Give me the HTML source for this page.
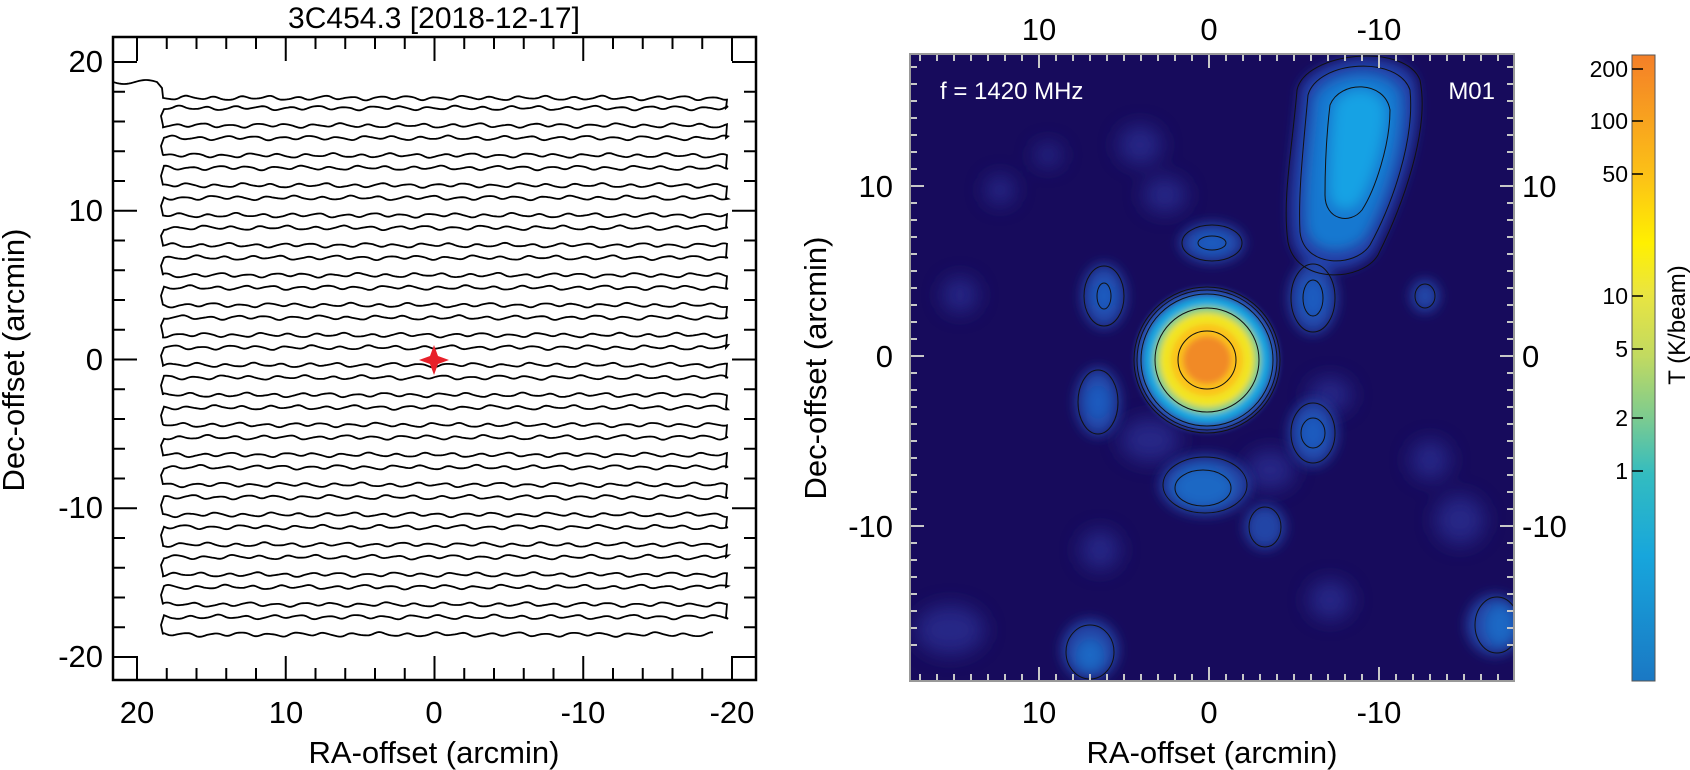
<!DOCTYPE html>
<html><head><meta charset="utf-8">
<style>
html,body{margin:0;padding:0;background:#fff;}
svg{display:block;font-family:"Liberation Sans",Arial,sans-serif;}
</style></head>
<body>
<svg id="s" width="1690" height="770" viewBox="0 0 1690 770" xmlns="http://www.w3.org/2000/svg">
<defs>
<filter id="b6" x="-50%" y="-50%" width="200%" height="200%"><feGaussianBlur stdDeviation="6"/></filter>
<filter id="b3" x="-50%" y="-50%" width="200%" height="200%"><feGaussianBlur stdDeviation="3"/></filter>
<filter id="b10" x="-50%" y="-50%" width="200%" height="200%"><feGaussianBlur stdDeviation="10"/></filter>
<linearGradient id="cb" x1="0" y1="1" x2="0" y2="0">
<stop offset="0" stop-color="#1a78c4"/>
<stop offset="0.2" stop-color="#17a6dc"/>
<stop offset="0.33" stop-color="#33bcc0"/>
<stop offset="0.42" stop-color="#7ccb90"/>
<stop offset="0.52" stop-color="#c2da60"/>
<stop offset="0.62" stop-color="#eae540"/>
<stop offset="0.7" stop-color="#fff000"/>
<stop offset="0.8" stop-color="#fcc416"/>
<stop offset="1" stop-color="#f47f28"/>
</linearGradient>
<clipPath id="mc"><rect x="910" y="54" width="604" height="627"/></clipPath>
</defs>

<!-- LEFT PLOT -->
<text x="434" y="28" font-size="30" text-anchor="middle">3C454.3 [2018-12-17]</text>
<rect x="113" y="37" width="643" height="643" fill="none" stroke="#000" stroke-width="2.5"/>
<g id="lt" stroke="#000" stroke-width="2"></g>
<path id="tr" fill="none" stroke="#000" stroke-width="1.8"/>
<path d="M434,345 L438,356 L449,360 L438,364 L434,375 L430,364 L419,360 L430,356 Z" fill="#e8202a"/>
<g font-size="31" text-anchor="end">
<text x="103" y="72">20</text><text x="103" y="221">10</text><text x="103" y="370">0</text>
<text x="103" y="518">-10</text><text x="103" y="667">-20</text>
</g>
<g font-size="31" text-anchor="middle">
<text x="137" y="723">20</text><text x="286" y="723">10</text><text x="434" y="723">0</text>
<text x="583" y="723">-10</text><text x="732" y="723">-20</text>
</g>
<text x="434" y="763" font-size="31" text-anchor="middle">RA-offset (arcmin)</text>
<text transform="translate(24,360) rotate(-90)" font-size="31" text-anchor="middle">Dec-offset (arcmin)</text>

<!-- RIGHT MAP -->
<g clip-path="url(#mc)">
<rect x="910" y="54" width="604" height="627" fill="#170b5c"/>
<g filter="url(#b10)" fill="#2a2f92" opacity="0.8">
<ellipse cx="1140" cy="145" rx="22" ry="20"/>
<ellipse cx="1048" cy="155" rx="14" ry="12"/>
<ellipse cx="1165" cy="195" rx="22" ry="18"/>
<ellipse cx="1000" cy="190" rx="15" ry="15"/>
<ellipse cx="960" cy="295" rx="18" ry="18"/>
<ellipse cx="1330" cy="395" rx="22" ry="18"/>
<ellipse cx="1430" cy="460" rx="20" ry="20"/>
<ellipse cx="1460" cy="520" rx="25" ry="25"/>
<ellipse cx="950" cy="630" rx="35" ry="25"/>
<ellipse cx="1150" cy="440" rx="30" ry="22"/>
<ellipse cx="1270" cy="470" rx="25" ry="20"/>
<ellipse cx="1100" cy="550" rx="20" ry="20"/>
<ellipse cx="1330" cy="600" rx="22" ry="20"/>
</g>
<g filter="url(#b6)">
<path d="M1300,90 C1310,55 1400,45 1415,80 C1425,130 1400,200 1375,250 C1360,275 1300,280 1292,240 C1285,200 1295,150 1300,90 Z" fill="#2040a8"/>
<path d="M1315,100 C1325,70 1390,65 1400,95 C1405,140 1385,200 1365,235 C1350,255 1310,255 1307,225 C1305,190 1310,150 1315,100 Z" fill="#1478d0"/>
<path d="M1335,105 C1345,85 1380,85 1385,110 C1385,140 1372,180 1360,200 C1350,215 1330,210 1330,190 C1330,160 1332,130 1335,105 Z" fill="#12a2e4"/>
<ellipse cx="1212" cy="243" rx="32" ry="20" fill="#2344a6"/>
<ellipse cx="1212" cy="243" rx="18" ry="10" fill="#1c5cc0"/>
<ellipse cx="1104" cy="296" rx="22" ry="32" fill="#2344a6"/>
<ellipse cx="1104" cy="296" rx="10" ry="16" fill="#1c5cc0"/>
<ellipse cx="1098" cy="402" rx="22" ry="34" fill="#2344a6"/>
<ellipse cx="1098" cy="402" rx="10" ry="18" fill="#1c5cc0"/>
<ellipse cx="1313" cy="298" rx="24" ry="36" fill="#2344a6"/>
<ellipse cx="1313" cy="298" rx="12" ry="20" fill="#1c5cc0"/>
<ellipse cx="1313" cy="433" rx="24" ry="33" fill="#2344a6"/>
<ellipse cx="1313" cy="433" rx="12" ry="18" fill="#1c5cc0"/>
<ellipse cx="1205" cy="485" rx="45" ry="30" fill="#2344a6"/>
<ellipse cx="1203" cy="487" rx="30" ry="20" fill="#1a68c4"/>
<ellipse cx="1265" cy="527" rx="20" ry="22" fill="#2344a6"/>
<ellipse cx="1090" cy="650" rx="28" ry="30" fill="#2344a6"/>
<ellipse cx="1090" cy="655" rx="14" ry="16" fill="#1a68c4"/>
<ellipse cx="1495" cy="625" rx="28" ry="30" fill="#2344a6"/>
<ellipse cx="1500" cy="625" rx="15" ry="20" fill="#1a68c4"/>
<ellipse cx="1425" cy="296" rx="14" ry="16" fill="#2344a6"/>
</g>
<g filter="url(#b3)">
<circle cx="1207" cy="360" r="72" fill="#2a4fb0"/>
<circle cx="1207" cy="360" r="63" fill="#15a6e0"/>
<circle cx="1207" cy="360" r="54" fill="#8fcf80"/>
<circle cx="1207" cy="360" r="47" fill="#f2e424"/>
<circle cx="1207" cy="360" r="36" fill="#fbc21a"/>
<circle cx="1207" cy="360" r="24" fill="#f18a28"/>
</g>
<g fill="none" stroke="#111" stroke-width="1">
<circle cx="1207" cy="360" r="73"/>
<circle cx="1207" cy="360" r="70"/>
<circle cx="1207" cy="360" r="66"/>
<circle cx="1207" cy="360" r="52"/>
<circle cx="1207" cy="360" r="29"/>
<path d="M1297,90 C1305,52 1405,42 1420,80 C1430,130 1403,205 1378,255 C1362,282 1296,285 1288,242 C1282,200 1292,150 1297,90 Z"/>
<path d="M1308,95 C1318,60 1398,55 1410,90 C1415,140 1392,205 1370,245 C1355,268 1304,268 1300,232 C1298,195 1303,150 1308,95 Z"/>
<path d="M1330,105 C1340,80 1385,80 1390,110 C1390,145 1375,190 1362,210 C1350,225 1325,220 1325,195 C1325,160 1327,130 1330,105 Z"/>
<ellipse cx="1212" cy="243" rx="30" ry="18"/><ellipse cx="1212" cy="243" rx="14" ry="7"/>
<ellipse cx="1104" cy="296" rx="20" ry="30"/><ellipse cx="1104" cy="296" rx="7" ry="13"/>
<ellipse cx="1098" cy="402" rx="20" ry="32"/>
<ellipse cx="1313" cy="298" rx="22" ry="34"/><ellipse cx="1313" cy="298" rx="10" ry="18"/>
<ellipse cx="1313" cy="433" rx="22" ry="30"/><ellipse cx="1313" cy="433" rx="12" ry="15"/>
<ellipse cx="1205" cy="485" rx="42" ry="28"/><ellipse cx="1203" cy="488" rx="28" ry="18"/>
<ellipse cx="1265" cy="527" rx="16" ry="20"/>
<ellipse cx="1090" cy="652" rx="24" ry="27"/>
<ellipse cx="1497" cy="625" rx="22" ry="28"/>
<ellipse cx="1425" cy="296" rx="10" ry="12"/>
</g>
<text x="940" y="99" font-size="24" fill="#fff">f = 1420 MHz</text>
<text x="1495" y="99" font-size="24" fill="#fff" text-anchor="end">M01</text>
</g>
<g id="rt" stroke="#c8c8c8" stroke-width="2"></g>
<rect x="910" y="54" width="604" height="627" fill="none" stroke="#999" stroke-width="2"/>
<g font-size="31" text-anchor="middle">
<text x="1039" y="40">10</text><text x="1209" y="40">0</text><text x="1379" y="40">-10</text>
<text x="1039" y="723">10</text><text x="1209" y="723">0</text><text x="1379" y="723">-10</text>
</g>
<g font-size="31" text-anchor="end">
<text x="893" y="197">10</text><text x="893" y="367">0</text><text x="893" y="537">-10</text>
</g>
<g font-size="31">
<text x="1522" y="197">10</text><text x="1522" y="367">0</text><text x="1522" y="537">-10</text>
</g>
<text x="1212" y="763" font-size="31" text-anchor="middle">RA-offset (arcmin)</text>
<text transform="translate(826,368) rotate(-90)" font-size="31" text-anchor="middle">Dec-offset (arcmin)</text>

<!-- COLORBAR -->
<rect x="1632" y="55" width="23" height="626" fill="url(#cb)"/>
<rect x="1632" y="55" width="23" height="626" fill="none" stroke="#555" stroke-width="1"/>
<g stroke="#000" stroke-width="1.5">
<line x1="1632" y1="69" x2="1643" y2="69"/><line x1="1632" y1="121" x2="1643" y2="121"/>
<line x1="1632" y1="174" x2="1643" y2="174"/><line x1="1632" y1="296" x2="1643" y2="296"/>
<line x1="1632" y1="349" x2="1643" y2="349"/><line x1="1632" y1="418" x2="1643" y2="418"/>
<line x1="1632" y1="471" x2="1643" y2="471"/>
</g>
<g font-size="23" text-anchor="end">
<text x="1628" y="77">200</text><text x="1628" y="129">100</text><text x="1628" y="182">50</text>
<text x="1628" y="304">10</text><text x="1628" y="357">5</text><text x="1628" y="426">2</text>
<text x="1628" y="479">1</text>
</g>
<text transform="translate(1685,325) rotate(-90)" font-size="24" text-anchor="middle">T (K/beam)</text>
</svg>
<script>
(function(){
var NS="http://www.w3.org/2000/svg";
function ln(g,x1,y1,x2,y2){var l=document.createElementNS(NS,"line");l.setAttribute("x1",x1);l.setAttribute("y1",y1);l.setAttribute("x2",x2);l.setAttribute("y2",y2);g.appendChild(l);}
var g=document.getElementById("lt"),s=14.875,x0=434.5,y0=359.5;
for(var v=-20;v<=20;v+=2){var maj=(v%10==0),L=maj?24:12;var x=x0-v*s,y=y0-v*s;
ln(g,x,680,x,680-L);ln(g,x,37,x,37+L);ln(g,113,y,113+L,y);ln(g,756,y,756-L,y);}
function w(x,k){return 1.5*Math.sin(x/4.4+k*1.7)+0.7*Math.sin(x/11+k*0.9)+0.3*Math.sin(x/2.3+k*2.3);}
var d="M113,82";
for(var x=113;x<=158;x+=2)d+=" L"+x+","+(82+2*Math.sin((x-113)/7));
d+=" L162,88 L163,97";
var XL=163,XR=728,k=0;
function row(y,dir,kk,xs,xe){var p="";if(dir>0){for(var x=xs;x<=xe;x+=2)p+=" L"+x+","+(y+w(x,kk)).toFixed(1);}else{for(var x=xe;x>=xs;x-=2)p+=" L"+x+","+(y+w(x,kk)).toFixed(1);}return p;}
d+=row(98,1,0,XL,XR);
for(k=0;k<18;k++){var a=108+29.94*k,b=a+17.5;
d+=" L"+(XR-2)+","+a;d+=row(a,-1,k+1,XL,XR);
d+=" L"+(XL-2)+","+(a+8)+" L"+XL+","+b;
d+=row(b,1,k+20,XL,(k==17?714:XR));}
document.getElementById("tr").setAttribute("d",d);
var r=document.getElementById("rt"),s2=17,cx=1209,cy=356;
for(var v=-17;v<=17;v++){var maj=(v%10==0),L=maj?14:7;var x=cx-v*s2;
if(x>911&&x<1513){ln(r,x,681,x,681-L);ln(r,x,54,x,54+L);}
var y=cy-v*s2;if(y>55&&y<680){ln(r,910,y,910+L,y);ln(r,1514,y,1514-L,y);}}
})();
</script>
</body></html>
